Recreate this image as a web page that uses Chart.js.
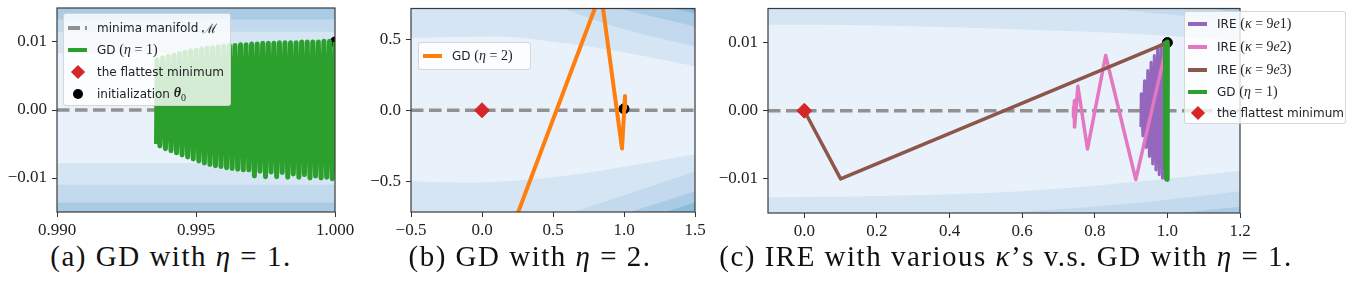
<!DOCTYPE html>
<html>
<head>
<meta charset="utf-8">
<script src="https://cdn.jsdelivr.net/npm/chart.js@4.4.1/dist/chart.umd.min.js"></script>
<style>
  body { margin: 0; background: #fff; width: 1349px; height: 292px; overflow: hidden; position: relative; font-family: 'DejaVu Sans', sans-serif; }
  canvas { position: absolute; top: 0; }
  .leg { position: absolute; background: rgba(255,255,255,0.8); border: 1px solid rgba(204,204,204,0.8); border-radius: 3px; box-sizing: border-box; font-size: 12px; color: #222; }
  .row { position: absolute; left: 0; height: 20px; display: flex; align-items: center; white-space: nowrap; }
  .sw { width: 19px; height: 3.5px; margin-right: 10px; }
  .m { font-family: 'Liberation Serif', serif; font-size: 14px; }
  .cap { position: absolute; top: 242px; line-height: 29px; font-family: 'Liberation Serif', serif; font-size: 29px; letter-spacing: 1.5px; white-space: nowrap; transform: translateX(-50%); color: #111; }
</style>
</head>
<body>
<canvas id="ca" width="360" height="240" style="left:0px"></canvas>
<canvas id="cb" width="370" height="240" style="left:355px"></canvas>
<canvas id="cc" width="553" height="240" style="left:712px"></canvas>

<div class="leg" style="left:63px;top:13px;width:168px;height:93px">
  <div class="row" style="top:4px;left:4px"><div class="sw" style="background:repeating-linear-gradient(90deg,#919191 0 12px,transparent 12px 17px)"></div>minima manifold&nbsp;<span class="m" style="font-size:13px">&#8499;</span></div>
  <div class="row" style="top:26px;left:4px"><div class="sw" style="background:#2ca02c"></div>GD&nbsp;<span class="m">(<i>η</i> = 1)</span></div>
  <div class="row" style="top:48px;left:4px"><div style="width:10px;height:10px;background:#d62728;transform:rotate(45deg);margin:0 14px 0 5px"></div>the flattest minimum</div>
  <div class="row" style="top:70px;left:4px"><div style="width:10px;height:10px;border-radius:50%;background:#000;margin:0 14px 0 5px"></div>initialization&nbsp;<span class="m"><b><i>θ</i></b><sub style="font-size:10px">0</sub></span></div>
</div>

<div class="leg" style="left:418px;top:42px;width:113px;height:28px">
  <div class="row" style="top:3px;left:4px"><div class="sw" style="background:#ff7f0e"></div>GD&nbsp;<span class="m">(<i>η</i> = 2)</span></div>
</div>

<div class="leg" style="left:1184px;top:11px;width:162px;height:113px">
  <div class="row" style="top:2px;left:3px"><div class="sw" style="background:#9467bd"></div>IRE&nbsp;<span class="m">(<i>κ</i> = 9<i>e</i>1)</span></div>
  <div class="row" style="top:25px;left:3px"><div class="sw" style="background:#e377c2"></div>IRE&nbsp;<span class="m">(<i>κ</i> = 9<i>e</i>2)</span></div>
  <div class="row" style="top:48px;left:3px"><div class="sw" style="background:#8c564b"></div>IRE&nbsp;<span class="m">(<i>κ</i> = 9<i>e</i>3)</span></div>
  <div class="row" style="top:70px;left:3px"><div class="sw" style="background:#2ca02c"></div>GD&nbsp;<span class="m">(<i>η</i> = 1)</span></div>
  <div class="row" style="top:91px;left:3px"><div style="width:10px;height:10px;background:#d62728;transform:rotate(45deg);margin:0 14px 0 5px"></div>the flattest minimum</div>
</div>

<div class="cap" style="left:171px">(a) GD with <i>η</i> = 1.</div>
<div class="cap" style="left:530px">(b) GD with <i>η</i> = 2.</div>
<div class="cap" style="left:1006px">(c) IRE with various <i>κ</i>’s v.s. GD with <i>η</i> = 1.</div>

<script>
// ---------- values ----------

// axis ticks
const aXTicks = [0.990, 0.995, 1.000];
const aXLabels = ["0.990", "0.995", "1.000"];
const aYTicks = [-0.01, 0, 0.01];
const aYLabels = ["\u22120.01", "0.00", "0.01"];

const bXTicks = [-0.5, 0, 0.5, 1.0, 1.5];
const bXLabels = ["\u22120.5", "0.0", "0.5", "1.0", "1.5"];
const bYTicks = [-0.5, 0, 0.5];
const bYLabels = ["\u22120.5", "0.0", "0.5"];

const cXTicks = [0, 0.2, 0.4, 0.6, 0.8, 1.0, 1.2];
const cXLabels = ["0.0", "0.2", "0.4", "0.6", "0.8", "1.0", "1.2"];
const cYTicks = [-0.01, 0, 0.01];
const cYLabels = ["\u22120.01", "0.00", "0.01"];

// minimum manifold (y = 0) over each panel
const aManX = [0.990, 1.000];
const bManX = [-0.5, 1.5];
const cManX = [-0.1, 1.2];
const manY = [0, 0];

// special points
const flatX = [0], flatY = [0];
const initX = [1.0], initY = [0.01];

// GD, eta = 1 (dense oscillation)
const gd1X = [1.0000, 0.9999, 0.9998, 0.9997, 0.9996, 0.9995, 0.9994, 0.9993, 0.9992, 0.9991,
              0.9990, 0.9989, 0.9988, 0.9987, 0.9986, 0.9985, 0.9984, 0.9983, 0.9982, 0.9981,
              0.9980, 0.9979, 0.9978, 0.9977, 0.9976, 0.9975, 0.9974, 0.9973, 0.9972, 0.9971,
              0.9970, 0.9969, 0.9968, 0.9967, 0.9966, 0.9965, 0.9964, 0.9963, 0.9962, 0.9961,
              0.9960, 0.9959, 0.9958, 0.9957, 0.9956, 0.9955, 0.9954, 0.9953, 0.9952, 0.9951,
              0.9950, 0.9949, 0.9948, 0.9947, 0.9946, 0.9945, 0.9944, 0.9943, 0.9942, 0.9941,
              0.9940, 0.9939, 0.9938, 0.9937, 0.9936, 0.99358];
const gd1Y = [0.0100, -0.0101, 0.0101, -0.0099, 0.0101, -0.0100, 0.0100, -0.0097, 0.0100, -0.0100,
              0.0100, -0.0095, 0.0100, -0.0099, 0.0099, -0.0094, 0.0099, -0.0099, 0.0099, -0.0092,
              0.0099, -0.0098, 0.0098, -0.0091, 0.0098, -0.0098, 0.0098, -0.0090, 0.0097, -0.0097,
              0.0097, -0.0088, 0.0096, -0.0088, 0.0096, -0.0087, 0.0095, -0.0086, 0.0095, -0.0085,
              0.0094, -0.0083, 0.0093, -0.0082, 0.0092, -0.0080, 0.0091, -0.0078, 0.0090, -0.0075,
              0.0088, -0.0072, 0.0087, -0.0069, 0.0085, -0.0066, 0.0083, -0.0063, 0.0081, -0.0060,
              0.0079, -0.0057, 0.0077, -0.0053, 0.0074, -0.0050];

// GD, eta = 2
const gd2X = [1.0, 1.007, 0.986, 0.837, 0.1];
const gd2Y = [0.01, 0.10, -0.27, 0.83, -1.13];

// IRE, kappa = 9e1
const ire1X = [1.000, 0.9955, 0.991, 0.9865, 0.982, 0.9775, 0.973, 0.9685, 0.964, 0.9595,
               0.955, 0.9505, 0.946, 0.9415, 0.937, 0.9325, 0.928, 0.927];
const ire1Y = [0.0100, -0.0101, 0.0100, -0.0099, 0.0097, -0.0094, 0.0091, -0.0087, 0.0081, -0.0078,
               0.0071, -0.0067, 0.0059, -0.0054, 0.0044, -0.0037, 0.0025, -0.0024];

// IRE, kappa = 9e2
const ire2X = [1.0, 0.913, 0.830, 0.780, 0.7535, 0.7445, 0.744, 0.742, 0.742, 0.741];
const ire2Y = [0.0100, -0.0101, 0.0081, -0.0056, 0.0036, -0.0024, 0.0015, -0.0009, 0.0005, 0.0];

// IRE, kappa = 9e3
const ire3X = [1.0, 0.1, 0.0];
const ire3Y = [0.01, -0.01, 0.0];

// contour band edges (loss level sets)
const aBandX = [0.990, 1.000];
const aTop1 = [0.0084, 0.0084], aTop2 = [0.0115, 0.0115], aTop3 = [0.0133, 0.0133];
const aBot1 = [-0.0078, -0.0078], aBot2 = [-0.0110, -0.0110], aBot3 = [-0.0136, -0.0136];

const bTop1X = [-0.5, 0.1, 0.6, 1.1, 1.5], bTop1Y = [0.51, 0.52, 0.47, 0.39, 0.31];
const bTop2X = [0.3, 0.5, 0.87, 1.2, 1.5], bTop2Y = [0.78, 0.74, 0.61, 0.52, 0.45];
const bTop3X = [0.8, 1.2, 1.5], bTop3Y = [0.76, 0.66, 0.59];
const bTop4X = [1.25, 1.5], bTop4Y = [0.74, 0.68];
const bTop5X = [1.42, 1.5], bTop5Y = [0.73, 0.70];
const bBot1X = [-0.5, -0.1, 0.6, 1.1, 1.5], bBot1Y = [-0.50, -0.51, -0.46, -0.38, -0.31];
const bBot2X = [0.6, 1.0, 1.5], bBot2Y = [-0.73, -0.60, -0.43];
const bBot3X = [1.0, 1.5], bBot3Y = [-0.73, -0.57];
const bBot4X = [1.25, 1.5], bBot4Y = [-0.73, -0.65];

const cTop1X = [-0.1, 0.2, 0.5, 0.9, 1.2], cTop1Y = [0.0126, 0.0125, 0.0121, 0.0113, 0.0103];
const cTop2X = [0.8, 1.2], cTop2Y = [0.0152, 0.0131];
const cTop3X = [1.1, 1.2], cTop3Y = [0.0152, 0.0143];
const cBot1X = [-0.1, 0.2, 0.6, 0.9, 1.2], cBot1Y = [-0.0127, -0.0125, -0.0118, -0.0105, -0.0088];
const cBot2X = [0.5, 0.9, 1.2], cBot2Y = [-0.0152, -0.0136, -0.0118];
const cBot3X = [1.0, 1.2], cBot3Y = [-0.0152, -0.0141];

// ---------- styling ----------
const blues = ["#e9f2fa", "#d5e5f3", "#c2d9ee", "#a9cbe5", "#8bbcdc", "#62a3d1"];

function pts(xs, ys) {
  return xs.map((x, i) => ({ x: x, y: ys[i] }));
}

function band(xs, ys, color, side, order) {
  return {
    data: pts(xs, ys), borderWidth: 0, borderColor: "rgba(0,0,0,0)",
    backgroundColor: color, fill: side, pointRadius: 0,
    cubicInterpolationMode: "monotone", order: order
  };
}

function path(xs, ys, color, order, width) {
  return {
    data: pts(xs, ys), borderColor: color, borderWidth: width || 3.5, pointRadius: 0,
    fill: false, order: order, borderJoinStyle: "round", tension: 0
  };
}

function manifold(xs) {
  return {
    data: pts(xs, manY), borderColor: "#919191", borderWidth: 3.5, borderDash: [12.5, 5.5],
    pointRadius: 0, fill: false, order: 9, borderCapStyle: "butt"
  };
}

function marker(xs, ys, style, radius, color, order) {
  return {
    data: pts(xs, ys), showLine: false, pointStyle: style, pointRadius: radius,
    pointBackgroundColor: color, pointBorderColor: color, pointBorderWidth: 1,
    order: order, clip: 0
  };
}

function axis(min, max, ticks, labels, size, isX) {
  return {
    type: "linear", min: min, max: max,
    afterBuildTicks: s => { s.ticks = ticks.map(v => ({ value: v })); },
    afterFit: s => {
      if (isX) s.height = size; else s.width = size;
      s.paddingLeft = 0; s.paddingRight = 0; s.paddingTop = 0; s.paddingBottom = 0;
    },
    ticks: {
      autoSkip: false, maxRotation: 0, padding: isX ? 3 : 5, color: "#222",
      font: { family: "'Liberation Serif', serif", size: 17 },
      callback: (v, i) => labels[i]
    },
    grid: { drawOnChartArea: false, drawTicks: true, tickLength: 5, tickColor: "#333", tickWidth: 1 },
    border: { display: false }
  };
}

const framePlugin = {
  id: "frame",
  beforeDatasetsDraw(chart) {
    const a = chart.chartArea, c = chart.ctx;
    c.save();
    c.fillStyle = blues[0];
    c.fillRect(a.left, a.top, a.right - a.left, a.bottom - a.top);
    c.restore();
  },
  afterDatasetsDraw(chart) {
    const a = chart.chartArea, c = chart.ctx;
    c.save();
    c.strokeStyle = "#3a3a3a";
    c.lineWidth = 1.2;
    c.strokeRect(a.left, a.top, a.right - a.left, a.bottom - a.top);
    c.restore();
  }
};

function makeChart(id, datasets, xAxis, yAxis, padding) {
  return new Chart(document.getElementById(id), {
    type: "line",
    data: { datasets: datasets },
    options: {
      responsive: false, animation: false,
      layout: { padding: padding },
      plugins: { legend: { display: false }, tooltip: { enabled: false } },
      scales: { x: xAxis, y: yAxis }
    },
    plugins: [framePlugin]
  });
}

// (a) GD with eta = 1
makeChart("ca", [
  marker(initX, initY, "circle", 5, "#000", 8),
  path(gd1X, gd1Y, "#2ca02c", 2, 5),
  manifold(aManX),
  band(aBandX, aTop3, blues[3], "end", 20),
  band(aBandX, aTop2, blues[2], "end", 21),
  band(aBandX, aTop1, blues[1], "end", 22),
  band(aBandX, aBot3, blues[3], "start", 20),
  band(aBandX, aBot2, blues[2], "start", 21),
  band(aBandX, aBot1, blues[1], "start", 22)
], axis(0.990, 1.000, aXTicks, aXLabels, 28, true),
   axis(-0.015, 0.015, aYTicks, aYLabels, 57, false),
   { top: 8, right: 25, left: 0, bottom: 0 });

// (b) GD with eta = 2
makeChart("cb", [
  marker(flatX, flatY, "rectRot", 7.5, "#d62728", 0),
  path(gd2X, gd2Y, "#ff7f0e", 2, 4),
  marker(initX, initY, "circle", 5, "#000", 8),
  manifold(bManX),
  band(bTop5X, bTop5Y, blues[5], "end", 16),
  band(bTop4X, bTop4Y, blues[4], "end", 17),
  band(bTop3X, bTop3Y, blues[3], "end", 18),
  band(bTop2X, bTop2Y, blues[2], "end", 19),
  band(bTop1X, bTop1Y, blues[1], "end", 20),
  band(bBot4X, bBot4Y, blues[4], "start", 17),
  band(bBot3X, bBot3Y, blues[3], "start", 18),
  band(bBot2X, bBot2Y, blues[2], "start", 19),
  band(bBot1X, bBot1Y, blues[1], "start", 20)
], axis(-0.5, 1.5, bXTicks, bXLabels, 28, true),
   axis(-0.717, 0.717, bYTicks, bYLabels, 56, false),
   { top: 3.5, right: 30, left: 0, bottom: 0 });

// (c) IRE with various kappa vs GD
makeChart("cc", [
  marker(flatX, flatY, "rectRot", 7.5, "#d62728", 0),
  path(gd1X, gd1Y, "#2ca02c", 1, 5),
  path(ire3X, ire3Y, "#8c564b", 2),
  path(ire2X, ire2Y, "#e377c2", 3),
  path(ire1X, ire1Y, "#9467bd", 4, 3),
  marker(initX, initY, "circle", 5, "#000", 8),
  manifold(cManX),
  band(cTop3X, cTop3Y, blues[3], "end", 18),
  band(cTop2X, cTop2Y, blues[2], "end", 19),
  band(cTop1X, cTop1Y, blues[1], "end", 20),
  band(cBot3X, cBot3Y, blues[3], "start", 18),
  band(cBot2X, cBot2Y, blues[2], "start", 19),
  band(cBot1X, cBot1Y, blues[1], "start", 20)
], axis(-0.1, 1.2, cXTicks, cXLabels, 27, true),
   axis(-0.015, 0.015, cYTicks, cYLabels, 56, false),
   { top: 4, right: 25, left: 0, bottom: 0 });
</script>
</body>
</html>
